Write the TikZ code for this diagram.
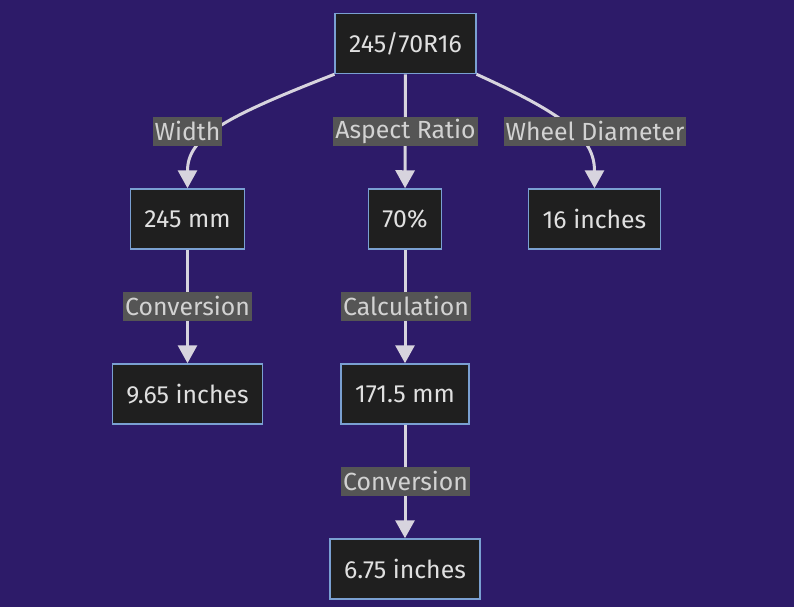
\documentclass[tikz,border=0pt]{standalone}
\usepackage{fontspec}
\setmainfont{Fira Sans}
\usetikzlibrary{arrows.meta}
\definecolor{bggrape}{RGB}{45, 27, 105}
\definecolor{boxfill}{RGB}{31, 31, 31}
\definecolor{boxborder}{RGB}{122, 160, 210}
\definecolor{boxtext}{RGB}{224, 224, 224}
\definecolor{edgegray}{RGB}{215, 212, 222}
\definecolor{labelfill}{RGB}{85, 85, 85}
\definecolor{labeltext}{RGB}{210, 210, 210}

\begin{document}
\begin{tikzpicture}[
        x=0.5pt, y=-0.5pt,
        box/.style={rectangle, draw=boxborder, line width=0.75pt, fill=boxfill, text=boxtext, minimum height=30pt, inner xsep=7pt, font=\fontsize{12.4}{14}\selectfont},
        lbl/.style={rectangle, fill=labelfill, text=labeltext, inner xsep=1pt, inner ysep=0pt, minimum height=14.5pt, font=\fontsize{12.4}{14}\selectfont},
        flow/.style={-{Triangle[width=9.5pt, length=9pt]}, line width=1.5pt, color=edgegray}
    ]
    
    % Background
    \fill[bggrape] (0,0) rectangle (794,607);
    \useasboundingbox (0,0) rectangle (794,607);
    
    % Nodes
    \node[box] (tire) at (405.5, 43.5) {245/70R16};
    \node[box] (width) at (187.5, 219) {245 mm};
    \node[box] (ratio) at (405, 219) {70\%};
    \node[box] (wheel) at (594.5, 219) {16 inches};
    \node[box] (widthin) at (187.5, 394) {9.65 inches};
    \node[box] (sidemm) at (405, 394) {171.5 mm};
    \node[box] (sidein) at (405, 569) {6.75 inches};
    
    % Edges
    \draw[flow] (tire.south west) .. controls (222, 118) and (187.5, 138) .. (width.north);
    \draw[flow] (tire) -- (ratio);
    \draw[flow] (tire.south east) .. controls (566, 115) and (594.5, 138) .. (wheel.north);
    \draw[flow] (width) -- (widthin);
    \draw[flow] (ratio) -- (sidemm);
    \draw[flow] (sidemm) -- (sidein);
    
    % Edge labels
    \node[lbl] (lwidth) at (187.5, 131) {Width};
    \node[lbl] (lratio) at (405.5, 131) {Aspect Ratio};
    \node[lbl] (lwheel) at (595, 131) {Wheel Diameter};
    \node[lbl] (lconv) at (187.5, 306) {Conversion};
    \node[lbl] (lcalc) at (406, 306) {Calculation};
    \node[lbl] (lconvb) at (405.5, 481) {Conversion};
    
\end{tikzpicture}
\end{document}
